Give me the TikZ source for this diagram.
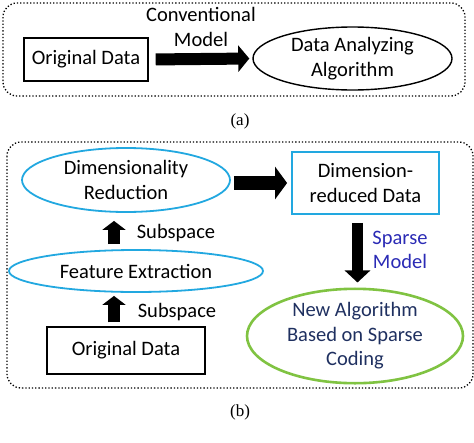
\documentclass[tikz,border=0pt]{standalone}
\usepackage{fontspec}
\setmainfont{Carlito}
\newfontfamily\capfont{Liberation Serif}
\usetikzlibrary{shapes.geometric,arrows.meta,calc}
\definecolor{skyline}{HTML}{22A8E0}
\definecolor{leafline}{HTML}{80C342}
\definecolor{sparseblue}{HTML}{2B2BB5}
\definecolor{navytext}{HTML}{1F3060}
\tikzset{
  panel/.style={draw, dotted, line width=1.3pt, rounded corners=14pt},
  databox/.style={draw, line width=1.4pt, align=center, inner sep=0pt},
  algoell/.style={ellipse, draw, line width=1.4pt, align=center, inner sep=0pt},
  bigarrow/.style={line width=12pt, -{Triangle[length=11pt,width=26pt]}},
  txt/.style={font=\fontsize{20.5}{24.5}\selectfont, align=center}
}
\newcommand{\capt}[3]{\node[font=\capfont\fontsize{17}{20}\selectfont] (#1) at (#2) {#3};}

\begin{document}
\begin{tikzpicture}[x=1pt,y=-1pt]
        \useasboundingbox (0,0) rectangle (474,442);
        % panel (a)
        \draw[panel] (3,3) rectangle (465,96);
        \node[databox, txt, minimum width=124pt, minimum height=43pt] (odA) at (86,59.5) {Original Data};
        \node[algoell, txt, minimum width=199pt, minimum height=63pt] (daa) at (352.5,58.5) {Data Analyzing\\Algorithm};
        \draw[bigarrow, shorten <=7pt, shorten >=3pt] (odA.east) -- (daa.west);
        \node[txt] (conv) at (201,27) {Conventional\\Model};
        \capt{capa}{240,121}{(a)}

        % panel (b)
        \draw[panel] (7,142) rectangle (473,388);
        \node[algoell, txt, draw=skyline, line width=1.8pt, minimum width=208pt, minimum height=64pt] (dr) at (126,180) {Dimensionality\\Reduction};
        \node[databox, txt, draw=skyline, line width=1.8pt, minimum width=147pt, minimum height=62pt] (drd) at (365.5,183) {Dimension-\\reduced Data};
        \node[algoell, txt, draw=skyline, line width=1.8pt, minimum width=254pt, minimum height=42pt] (fe) at (136,271) {Feature Extraction};
        \node[databox, txt, minimum width=158pt, minimum height=47pt] (odB) at (126,350.5) {Original Data};
        \node[algoell, txt, text=navytext, draw=leafline, line width=2.6pt, minimum width=216pt, minimum height=88pt] (nasc) at (355,336) {New Algorithm\\Based on Sparse\\Coding};

        \draw[bigarrow, line width=14pt, -{Triangle[length=12pt,width=32pt]}, shorten <=3pt, shorten >=4pt] (dr.east |- drd.west) -- (drd.west);
        \draw[bigarrow, line width=11pt, -{Triangle[length=12pt,width=25pt]}, shorten <=8pt, shorten >=5pt] ([xshift=-8pt]drd.south) -- ([xshift=-8pt]drd.south |- nasc.north);
        \draw[bigarrow, -{Triangle[length=9pt,width=23pt]}, shorten <=5pt, shorten >=8pt] ([xshift=-12pt]dr.south |- fe.north) -- ([xshift=-12pt]dr.south);
        \draw[bigarrow, -{Triangle[length=9pt,width=23pt]}, shorten <=4pt, shorten >=3pt] ([xshift=-12pt]odB.north) -- ([xshift=-12pt]odB.north |- fe.south);

        \node[txt] (subA) at (176,233) {Subspace};
        \node[txt] (subB) at (177,312) {Subspace};
        \node[txt, text=sparseblue] (spm) at (400,250) {Sparse\\Model};
        \capt{capb}{240,412}{(b)}
\end{tikzpicture}
\end{document}
